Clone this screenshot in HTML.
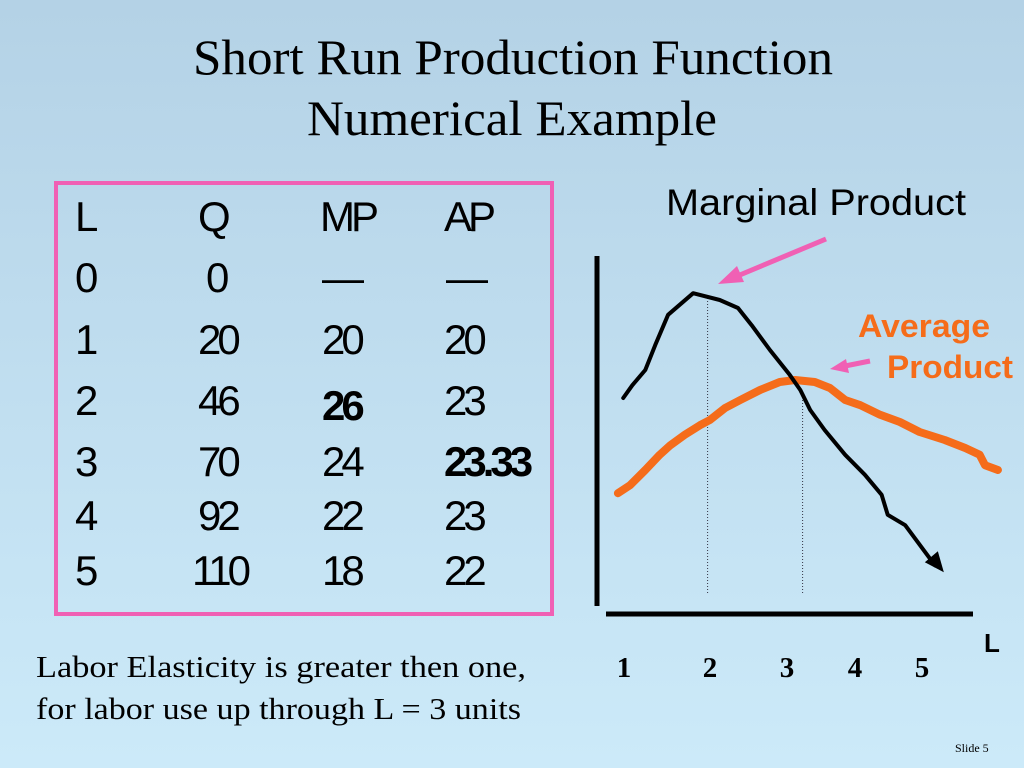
<!DOCTYPE html>
<html><head><meta charset="utf-8"><style>
html,body{margin:0;padding:0;width:1024px;height:768px;overflow:hidden}
svg{display:block}
.tb{font-family:"Liberation Sans",sans-serif;font-size:42px;letter-spacing:-4px;fill:#000}
.sr{font-family:"Liberation Serif",serif}
</style></head><body>
<svg id="s" width="1024" height="768" viewBox="0 0 1024 768">
<defs><linearGradient id="bg" x1="0" y1="0" x2="0" y2="1"><stop offset="0" stop-color="#b4d2e6"/><stop offset="1" stop-color="#cceaf9"/></linearGradient></defs>
<rect width="1024" height="768" fill="url(#bg)"/>
<text class="sr" x="193" y="74" font-size="50" textLength="640" lengthAdjust="spacingAndGlyphs">Short Run Production Function</text>
<text class="sr" x="307" y="135" font-size="50" textLength="410" lengthAdjust="spacingAndGlyphs">Numerical Example</text>
<rect x="56" y="183" width="496" height="431" fill="none" stroke="#f060b4" stroke-width="4"/>
<g class="tb">
<text x="75" y="231">L</text><text x="198" y="231">Q</text><text x="320" y="231">MP</text><text x="444" y="231">AP</text>
<text x="75" y="292">0</text><text x="206" y="292">0</text><text x="322" y="292">—</text><text x="446" y="292">—</text>
<text x="75" y="354">1</text><text x="198" y="354">20</text><text x="322" y="354">20</text><text x="444" y="354">20</text>
<text x="75" y="415">2</text><text x="198" y="415">46</text><text x="322" y="420" font-weight="bold">26</text><text x="444" y="415">23</text>
<text x="75" y="476">3</text><text x="198" y="476">70</text><text x="322" y="476">24</text><text x="444" y="476" font-weight="bold">23.33</text>
<text x="75" y="530">4</text><text x="198" y="530">92</text><text x="322" y="530">22</text><text x="444" y="530">23</text>
<text x="75" y="585">5</text><text x="192" y="585">110</text><text x="322" y="585">18</text><text x="444" y="585">22</text>
</g>
<text class="sr" x="36" y="677" font-size="31" textLength="490" lengthAdjust="spacingAndGlyphs">Labor Elasticity is greater then one,</text>
<text class="sr" x="36" y="719" font-size="31" textLength="485" lengthAdjust="spacingAndGlyphs">for labor use up through L = 3 units</text>
<text class="sr" x="955" y="752" font-size="12">Slide 5</text>
<line x1="597" y1="256" x2="597" y2="606" stroke="#000" stroke-width="5"/>
<line x1="606" y1="614" x2="973" y2="614" stroke="#000" stroke-width="5"/>
<text x="984" y="652" font-family="Liberation Sans,sans-serif" font-size="26" font-weight="bold">L</text>
<g id="ticks" class="sr" font-size="29" font-weight="bold" text-anchor="middle"></g>
<g id="plot"></g>
<text x="666" y="215" font-family="Liberation Sans,sans-serif" font-size="37" textLength="300" lengthAdjust="spacingAndGlyphs">Marginal Product</text>
<line x1="826" y1="239" x2="735" y2="277" stroke="#f060b4" stroke-width="5"/>
<polygon points="718,284 737,266 744,282" fill="#f060b4"/>
<text x="858" y="337" font-family="Liberation Sans,sans-serif" font-size="32" font-weight="bold" fill="#f56c1a" textLength="132" lengthAdjust="spacingAndGlyphs">Average</text>
<text x="887" y="378" font-family="Liberation Sans,sans-serif" font-size="32" font-weight="bold" fill="#f56c1a" textLength="126" lengthAdjust="spacingAndGlyphs">Product</text>
<line x1="870" y1="361" x2="845" y2="366" stroke="#f060b4" stroke-width="5"/>
<polygon points="830,369 846,359 849,373" fill="#f060b4"/>
</svg>
<script>
const tickLabels=["1","2","3","4","5"];
const mpL=[0.99,1.11,1.28,1.41,1.58,1.91,2.26,2.5,2.68,2.92,3.18,3.32,3.45,3.64,3.91,4.17,4.39,4.47,4.7,5.09];
const mpV=[26.5,28.1,30,33.1,36.9,39.6,38.75,37.75,35.6,32.5,29.4,27.5,25,22.5,19.4,16.9,14.4,11.9,10.6,5.6];
const apL=[0.92,1.08,1.28,1.47,1.61,1.8,2,2.13,2.33,2.53,2.79,3.05,3.25,3.51,3.71,3.91,4.11,4.37,4.63,4.89,5.22,5.49,5.68,5.75,5.92];
const apV=[14.6,15.6,17.5,19.4,20.6,21.9,23.1,23.75,25.25,26.25,27.5,28.5,28.75,28.5,27.75,26.25,25.6,24.4,23.5,22.25,21.25,20.25,19.4,18.1,17.5];
const guideL=[2.1,3.35];
const guideTop=[39,27];
function xS(l){return 548+l*76;}
function yS(v){return 610-v*8;}
const NS="http://www.w3.org/2000/svg";
const plot=document.getElementById('plot');
const ticks=document.getElementById('ticks');
tickLabels.forEach((t,i)=>{
 const e=document.createElementNS(NS,'text');
 
 
 e.setAttribute('x',[624,710,787,855,922][i]);e.setAttribute('y',677);e.textContent=t;ticks.appendChild(e);
});
guideL.forEach((l,i)=>{
 const e=document.createElementNS(NS,'line');
 
 
 e.setAttribute('x1',xS(l));e.setAttribute('x2',xS(l));e.setAttribute('y1',yS(guideTop[i]));e.setAttribute('y2',595);
 e.setAttribute('stroke','#334');e.setAttribute('stroke-width','1');e.setAttribute('stroke-dasharray','1,2');plot.appendChild(e);
});
function path(L,V,col,w,name){
 const e=document.createElementNS(NS,'polyline');
 
 
 e.setAttribute('points',L.map((l,i)=>xS(l)+','+yS(V[i])).join(' '));
 e.setAttribute('fill','none');e.setAttribute('stroke',col);e.setAttribute('stroke-width',w);
 e.setAttribute('stroke-linejoin','round');e.setAttribute('stroke-linecap','round');plot.appendChild(e);
}
path(apL,apV,'#f56c1a',8,'ap-curve');
path(mpL,mpV,'#000',4,'mp-curve');
const n=mpL.length,x1=xS(mpL[n-1]),y1=yS(mpV[n-1]);
const h=document.createElementNS(NS,'polygon');


h.setAttribute('points',(x1+9)+','+(y1+7)+' '+(x1-10)+','+(y1-3)+' '+(x1+3)+','+(y1-14));
h.setAttribute('fill','#000');plot.appendChild(h);
</script>
</body></html>
